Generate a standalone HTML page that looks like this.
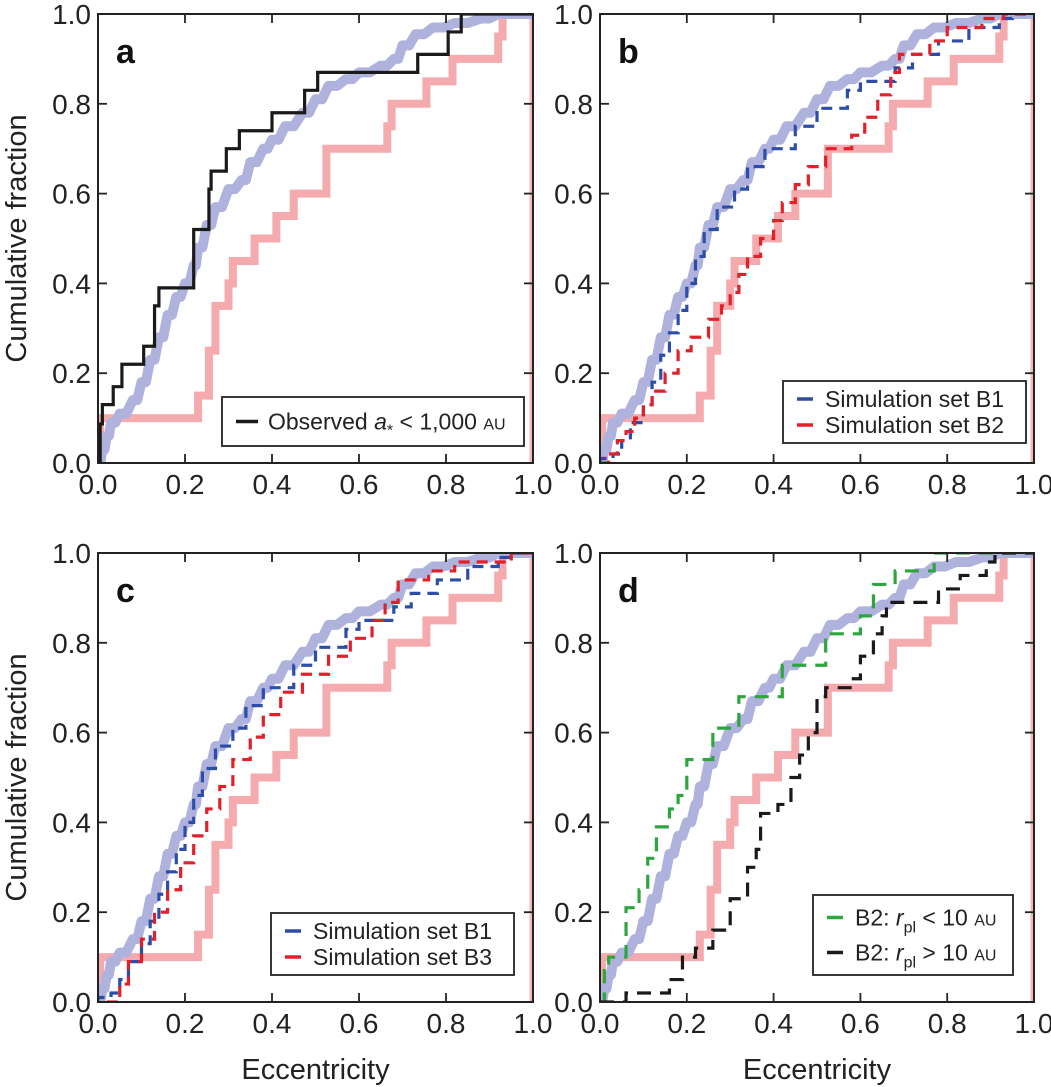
<!DOCTYPE html>
<html><head><meta charset="utf-8">
<style>
html,body{margin:0;padding:0;background:#fff;}
svg{display:block;font-family:"Liberation Sans",Arial,sans-serif;}
</style></head>
<body>
<svg id="fig" width="1051" height="1087" viewBox="0 0 1051 1087" xmlns="http://www.w3.org/2000/svg"></svg>
<script>
// ---- data ----
const ticks = [0, 0.2, 0.4, 0.6, 0.8, 1.0];
const tickLabels = ["0.0", "0.2", "0.4", "0.6", "0.8", "1.0"];
// simulated (lavender thick) CDF
const simEcc  = [0,0.01,0.02,0.03,0.05,0.08,0.10,0.12,0.14,0.16,0.18,0.20,0.22,0.23,0.25,0.27,0.30,0.33,0.35,0.38,0.40,0.43,0.47,0.50,0.53,0.57,0.60,0.65,0.68,0.70,0.73,0.77,0.82,0.88,0.92];
const simFrac = [0,0.03,0.06,0.09,0.11,0.14,0.18,0.23,0.28,0.33,0.37,0.40,0.44,0.48,0.53,0.57,0.61,0.63,0.67,0.70,0.72,0.75,0.78,0.81,0.84,0.855,0.87,0.885,0.90,0.93,0.955,0.97,0.98,0.99,1.0];
// pink observed CDF
const pinkEcc  = [0,0.005,0.23,0.255,0.27,0.30,0.31,0.36,0.41,0.45,0.525,0.665,0.675,0.755,0.815,0.92,0.93];
const pinkFrac = [0.05,0.10,0.15,0.25,0.35,0.40,0.45,0.50,0.55,0.60,0.70,0.75,0.80,0.85,0.90,0.95,1.0];
// black observed a* < 1000 AU
const obsEcc  = [0.005,0.01,0.035,0.055,0.105,0.13,0.14,0.22,0.255,0.26,0.295,0.325,0.40,0.475,0.505,0.735,0.805,0.835];
const obsFrac = [0.087,0.13,0.17,0.22,0.26,0.35,0.39,0.52,0.61,0.65,0.70,0.74,0.78,0.83,0.87,0.91,0.96,1.0];
// B1
const b1Ecc  = [0,0.03,0.05,0.07,0.10,0.12,0.14,0.16,0.18,0.20,0.22,0.24,0.27,0.31,0.34,0.38,0.45,0.50,0.57,0.60,0.68,0.72,0.78,0.85,0.92,0.95];
const b1Frac = [0.01,0.02,0.05,0.09,0.13,0.18,0.24,0.29,0.34,0.40,0.46,0.52,0.57,0.61,0.66,0.70,0.75,0.79,0.83,0.85,0.88,0.91,0.94,0.97,0.99,1.0];
// B2
const b2Ecc  = [0,0.02,0.04,0.06,0.08,0.10,0.12,0.15,0.18,0.21,0.25,0.28,0.30,0.32,0.34,0.37,0.40,0.42,0.45,0.48,0.52,0.58,0.61,0.64,0.67,0.69,0.76,0.80,0.88,0.93];
const b2Frac = [0,0.02,0.05,0.07,0.10,0.13,0.16,0.20,0.25,0.28,0.32,0.35,0.38,0.42,0.46,0.50,0.54,0.58,0.62,0.66,0.70,0.73,0.77,0.82,0.87,0.91,0.94,0.97,0.99,1.0];
// B3
const b3Ecc  = [0.02,0.05,0.07,0.10,0.13,0.16,0.19,0.22,0.25,0.28,0.31,0.35,0.38,0.42,0.47,0.53,0.58,0.63,0.66,0.69,0.76,0.82,0.95];
const b3Frac = [0,0.04,0.09,0.14,0.20,0.25,0.31,0.37,0.43,0.48,0.54,0.59,0.64,0.69,0.73,0.77,0.81,0.85,0.89,0.94,0.96,0.98,1.0];
// B2 r_pl < 10 AU
const inEcc  = [0,0.01,0.02,0.06,0.06,0.09,0.11,0.13,0.16,0.18,0.20,0.26,0.32,0.42,0.52,0.60,0.63,0.68,0.77];
const inFrac = [0,0.07,0.10,0.14,0.21,0.25,0.32,0.39,0.43,0.46,0.54,0.61,0.68,0.75,0.82,0.86,0.93,0.96,1.0];
// B2 r_pl > 10 AU
const outEcc  = [0,0.06,0.16,0.19,0.22,0.26,0.30,0.34,0.36,0.37,0.41,0.44,0.46,0.48,0.50,0.52,0.58,0.60,0.63,0.65,0.66,0.78,0.83,0.89,0.91];
const outFrac = [0,0.02,0.05,0.10,0.12,0.16,0.23,0.30,0.34,0.42,0.44,0.50,0.55,0.60,0.68,0.70,0.72,0.77,0.82,0.86,0.89,0.92,0.95,0.98,1.0];

const NS = "http://www.w3.org/2000/svg";
const svg = document.getElementById("fig");
function mk(tag, attrs, parent) {
  const e = document.createElementNS(NS, tag);
  for (const k in attrs) e.setAttribute(k, attrs[k]);
  (parent || svg).appendChild(e);
  return e;
}
function stepPath(xs, ys, sx, sy, y0) {
  let prev = y0;
  let d = "M" + sx(xs[0]) + "," + sy(prev);
  for (let i = 0; i < xs.length; i++) {
    d += " L" + sx(xs[i]) + "," + sy(prev) + " L" + sx(xs[i]) + "," + sy(ys[i]);
    prev = ys[i];
  }
  d += " L" + sx(1) + "," + sy(prev);
  return d;
}
// fine-grained stair (smooth-looking) for the many-point simulated CDF
function finePath(xs, ys, sx, sy) {
  let d = "M" + sx(xs[0]) + "," + sy(ys[0]);
  for (let i = 1; i < xs.length; i++) {
    const xm = (xs[i-1] + xs[i]) / 2;
    d += " L" + sx(xm) + "," + sy(ys[i-1]) + " L" + sx(xs[i]) + "," + sy(ys[i]);
  }
  d += " L" + sx(1) + "," + sy(ys[ys.length-1]);
  return d;
}

const panels = [
  {id:"a", x0:98, x1:533, y0:463, y1:14, ylab:true, xlab:false,
   legend:{x:222,y:397,w:302,h:49}},
  {id:"b", x0:600, x1:1034, y0:463, y1:14, ylab:false, xlab:false,
   legend:{x:783,y:381,w:243,h:62}},
  {id:"c", x0:98, x1:533, y0:1002, y1:553, ylab:true, xlab:true,
   legend:{x:271,y:913,w:243,h:62}},
  {id:"d", x0:600, x1:1034, y0:1002, y1:553, ylab:false, xlab:true,
   legend:{x:813,y:895,w:200,h:80}}
];

panels.forEach(p => {
  const g = mk("g", {});
  
  
  const sx = v => p.x0 + v * (p.x1 - p.x0);
  const sy = v => p.y0 + v * (p.y1 - p.y0);
  const clipId = "clip" + p.id;
  const cp = mk("clipPath", {id: clipId}, g);
  mk("rect", {x:p.x0-1, y:p.y1-1, width:p.x1-p.x0+2, height:p.y0-p.y1+2}, cp);
  const plot = mk("g", {"clip-path":"url(#"+clipId+")"}, g);

  // pink
  const pk = mk("path", {d: stepPath(pinkEcc, pinkFrac, sx, sy, 0), fill:"none", stroke:"#f5aaae", "stroke-width":8, "stroke-linejoin":"miter"}, plot);
  
  
  const pe = mk("line", {x1:sx(1)-2, x2:sx(1)-2, y1:sy(0), y2:sy(1), stroke:"#f7b5b8", "stroke-width":3}, plot);
  
  
  // lavender
  const lv = mk("path", {d: finePath(simEcc, simFrac, sx, sy), fill:"none", stroke:"#b0b2de", "stroke-width":10, "stroke-linejoin":"round", "stroke-linecap":"round"}, plot);
  
  

  let series = [];
  if (p.id === "a") series = [[obsEcc, obsFrac, "#1a1a1a", null, "observed-line"]];
  if (p.id === "b") series = [[b1Ecc, b1Frac, "#2c4ea8", "11,7", "b1-line"], [b2Ecc, b2Frac, "#e2202a", "11,7", "b2-line"]];
  if (p.id === "c") series = [[b1Ecc, b1Frac, "#2c4ea8", "11,7", "b1-line"], [b3Ecc, b3Frac, "#e2202a", "11,7", "b3-line"]];
  if (p.id === "d") series = [[inEcc, inFrac, "#2ea640", "14,9", "b2-inner-line"], [outEcc, outFrac, "#1a1a1a", "14,9", "b2-outer-line"]];
  series.forEach(s => {
    const a = {d: stepPath(s[0], s[1], sx, sy, 0), fill:"none", stroke:s[2], "stroke-width": 3.2};
    if (s[3]) a["stroke-dasharray"] = s[3];
    const e = mk("path", a, plot);
    
    
  });

  // frame
  const fr = mk("rect", {x:p.x0, y:p.y1, width:p.x1-p.x0, height:p.y0-p.y1, fill:"none", stroke:"#222", "stroke-width":2}, g);
  
  
  // ticks
  ticks.forEach((t, i) => {
    if (i > 0 && i < ticks.length - 1) {
      mk("line", {x1:sx(t), x2:sx(t), y1:p.y0, y2:p.y0-9, stroke:"#222", "stroke-width":1.8}, g);
      mk("line", {x1:sx(t), x2:sx(t), y1:p.y1, y2:p.y1+9, stroke:"#222", "stroke-width":1.8}, g);
      mk("line", {x1:p.x0, x2:p.x0+9, y1:sy(t), y2:sy(t), stroke:"#222", "stroke-width":1.8}, g);
      mk("line", {x1:p.x1, x2:p.x1-9, y1:sy(t), y2:sy(t), stroke:"#222", "stroke-width":1.8}, g);
    }
    const xl = mk("text", {x:sx(t), y:p.y0+31, "font-size":28, "text-anchor":"middle", fill:"#222"}, g);
    xl.textContent = tickLabels[i];
    
    
    const yl = mk("text", {x:p.x0-7, y:sy(t)+10, "font-size":28, "text-anchor":"end", fill:"#222"}, g);
    yl.textContent = tickLabels[i];
    
    
  });
  // panel letter
  const pl = mk("text", {x:p.x0+18, y:p.y1+49, "font-size":34, "font-weight":"bold", fill:"#111"}, g);
  pl.textContent = p.id;
  
  
  if (p.ylab) {
    const yt = mk("text", {x:0, y:0, "font-size":29, "text-anchor":"middle", fill:"#222", transform:"translate(26," + ((p.y0+p.y1)/2) + ") rotate(-90)"}, g);
    yt.textContent = "Cumulative fraction";
    
    
  }
  if (p.xlab) {
    const xt = mk("text", {x:(p.x0+p.x1)/2, y:1079, "font-size":29, "text-anchor":"middle", fill:"#222"}, g);
    xt.textContent = "Eccentricity";
    
    
  }
  // legend
  const L = p.legend;
  const lg = mk("g", {}, g);
  
  
  mk("rect", {x:L.x, y:L.y, width:L.w, height:L.h, fill:"#fff", stroke:"#222", "stroke-width":1.8}, lg);
  let entries = [];
  if (p.id === "a") entries = [["#1a1a1a", 'Observed <tspan font-style="italic">a</tspan><tspan font-size="16" dy="6">*</tspan><tspan dy="-6"> &lt; 1,000 </tspan><tspan font-size="16">AU</tspan>']];
  if (p.id === "b") entries = [["#2c4ea8", "Simulation set B1"], ["#e2202a", "Simulation set B2"]];
  if (p.id === "c") entries = [["#2c4ea8", "Simulation set B1"], ["#e2202a", "Simulation set B3"]];
  if (p.id === "d") entries = [["#2ea640", 'B2: <tspan font-style="italic">r</tspan><tspan font-size="16" dy="7">pl</tspan><tspan dy="-7"> &lt; 10 </tspan><tspan font-size="16">AU</tspan>'],
                               ["#1a1a1a", 'B2: <tspan font-style="italic">r</tspan><tspan font-size="16" dy="7">pl</tspan><tspan dy="-7"> &gt; 10 </tspan><tspan font-size="16">AU</tspan>']];
  const rowH = entries.length === 1 ? L.h : (L.h - 10) / 2;
  entries.forEach((en, i) => {
    const cy = entries.length === 1 ? L.y + L.h/2 : L.y + 5 + rowH*(i+0.5);
    const hl = mk("line", {x1:L.x+14, x2:L.x+(p.id==="a"?36:30), y1:cy, y2:cy, stroke:en[0], "stroke-width":3.5}, lg);
    
    
    const tx = mk("text", {x:L.x+(p.id==="a"?46:42), y:cy+8, "font-size":23, fill:"#222"}, lg);
    tx.innerHTML = en[1];
    
    
  });
});
</script>
</body></html>
